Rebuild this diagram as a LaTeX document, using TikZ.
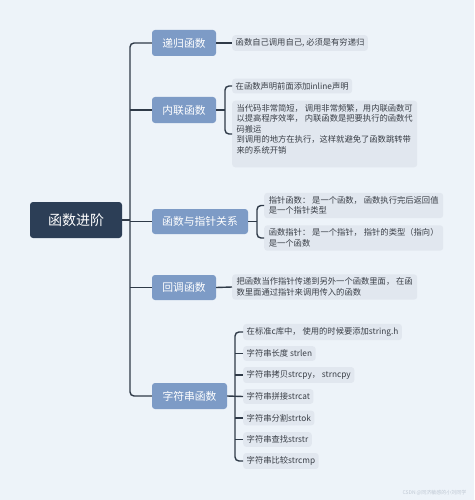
\documentclass[tikz,border=0pt]{standalone}
\usepackage{fontspec}
\setmainfont{Noto Sans CJK SC}
\usetikzlibrary{calc}
\definecolor{bgc}{HTML}{EDF3F9}
\definecolor{rootc}{HTML}{2C3E56}
\definecolor{branchc}{HTML}{7D9BC6}
\definecolor{leafc}{HTML}{E1E7EF}
\definecolor{linec}{HTML}{2F3A48}
\definecolor{leaftext}{HTML}{3A3F47}
\definecolor{wmc}{HTML}{BFC8D3}
\tikzset{
  rootbox/.style={fill=rootc, text=white, rounded corners=3pt, minimum width=92pt, minimum height=36pt, inner sep=0pt, font=\fontsize{14}{16}\selectfont},
  branchbox/.style={fill=branchc, text=white, rounded corners=3pt, minimum height=26pt, inner sep=0pt, font=\fontsize{10.8}{12}\selectfont},
  leafbox/.style={fill=leafc, text=leaftext, rounded corners=3pt, inner xsep=3.5pt, inner ysep=3.5pt, align=left, anchor=west, font=\fontsize{8.3}{10.5}\selectfont},
  conn/.style={draw=linec, line width=1.4pt, rounded corners=4pt},
}
\begin{document}
\begin{tikzpicture}[x=1pt,y=-1pt]
\useasboundingbox (0,0) rectangle (474,500);
\fill[bgc] (0,0) rectangle (474,500);

% root and branches
\node[rootbox] (root) at (76,220) {函数进阶};
\node[branchbox, minimum width=64pt] (b1) at (184,43) {递归函数};
\node[branchbox, minimum width=64pt] (b2) at (184,110) {内联函数};
\node[branchbox, minimum width=96pt, minimum height=25pt] (b3) at (200,221.5) {函数与指针关系};
\node[branchbox, minimum width=64pt, minimum height=25pt] (b4) at (184,287.5) {回调函数};
\node[branchbox, minimum width=75pt] (b5) at (189.5,396) {字符串函数};

% leaves
\node[leafbox] (l1) at (232,43) {函数自己调用自己, 必须是有穷递归};
\node[leafbox] (l2a) at (232,86) {在函数声明前面添加inline声明};
\node[leafbox, minimum width=185pt] (l2b) at (232,134) {当代码非常简短， 调用非常频繁，用内联函数可\\以提高程序效率， 内联函数是把要执行的函数代\\码搬运\\到调用的地方在执行，这样就避免了函数跳转带\\来的系统开销\\\mbox{}};
\node[leafbox, minimum width=179pt] (l3a) at (264,205.5) {指针函数： 是一个函数， 函数执行完后返回值\\是一个指针类型};
\node[leafbox, minimum width=179pt] (l3b) at (264,238) {函数指针： 是一个指针， 指针的类型（指向）\\是一个函数};
\node[leafbox, minimum width=185pt] (l4) at (232,287) {把函数当作指针传递到另外一个函数里面， 在函\\数里面通过指针来调用传入的函数};
\node[leafbox] (s1) at (243,332) {在标准c库中， 使用的时候要添加string.h};
\node[leafbox] (s2) at (243,353.5) {字符串长度 strlen};
\node[leafbox] (s3) at (243,375) {字符串拷贝strcpy， strncpy};
\node[leafbox] (s4) at (243,396.5) {字符串拼接strcat};
\node[leafbox] (s5) at (243,418) {字符串分割strtok};
\node[leafbox] (s6) at (243,439.5) {字符串查找strstr};
\node[leafbox] (s7) at (243,461) {字符串比较strcmp};

% junction coordinates
\coordinate (tb) at (130,396);
\coordinate (j2) at (225,110);
\coordinate (j3) at (257,221.5);
\coordinate (j5) at (235,396);

% trunk
\draw[conn] (root.east) -- (root.east -| tb);
\draw[conn] (b1.west) -| (tb) -- (b5.west);
\draw[conn] (b2.west -| tb) -- (b2.west);
\draw[conn] (b3.west -| tb) -- (b3.west);
\draw[conn] (b4.west -| tb) -- (b4.west);

% branch to leaves
\draw[conn] (b1.east) -- (l1.west);
\draw[conn] (b2.east) -- (j2);
\draw[conn] (l2a.west) -| (j2) |- (l2b.west);
\draw[conn] (b3.east) -- (j3);
\draw[conn] (l3a.west) -| (j3) |- (l3b.west);
\draw[conn] (b4.east) -- (l4.west);
\draw[conn] (b5.east) -- (s4.west);
\draw[conn] (s1.west) -| (j5) |- (s7.west);
\draw[conn] (s2.west -| j5) -- (s2.west);
\draw[conn] (s3.west -| j5) -- (s3.west);
\draw[conn] (s5.west -| j5) -- (s5.west);
\draw[conn] (s6.west -| j5) -- (s6.west);

% watermark
\node[text=wmc, font=\fontsize{5}{6}\selectfont, anchor=east] (wm) at (470,493) {CSDN @同济敏感的小刘同学};
\end{tikzpicture}
\end{document}
